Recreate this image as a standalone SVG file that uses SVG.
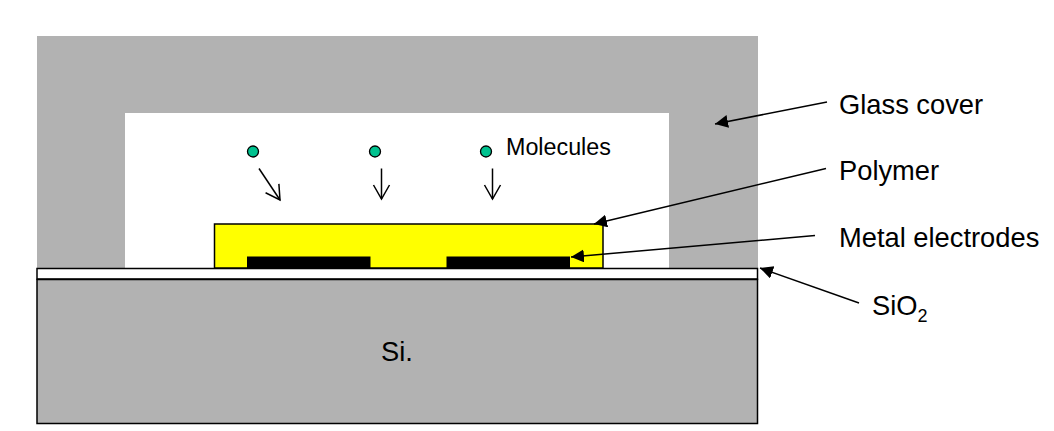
<svg xmlns="http://www.w3.org/2000/svg" width="1054" height="431" viewBox="0 0 1054 431">
<defs>
<marker id="solid" markerUnits="userSpaceOnUse" markerWidth="16" markerHeight="14" refX="13" refY="6.500" orient="auto"><path d="M0 0L13 6.500L0 13Z" fill="#000"/></marker>
<marker id="open" markerUnits="userSpaceOnUse" markerWidth="18" markerHeight="20" refX="15" refY="9" orient="auto"><path d="M1 1L15 9L1 17" fill="none" stroke="#000" stroke-width="1.500"/></marker>
</defs>
<style>
text{font-family:"Liberation Sans",Arial,sans-serif;fill:#000}
.lab{font-size:27.300px}
.out{stroke:#000;stroke-width:1.500}
.ln{stroke:#000;stroke-width:1.500;fill:none}
.mol{fill:#00c28f;stroke:#000;stroke-width:1.300}
</style>
<g id="glass-cover"><path d="M37 36H758V268H669V113H125V268H37Z" fill="#b2b2b2"/></g>
<g id="cavity"><rect x="125" y="113" width="544" height="155" fill="#fff"/></g>
<g id="sio2"><rect x="37" y="268.500" width="720.500" height="10.500" fill="#fff" class="out"/></g>
<g id="si"><rect x="37" y="279.500" width="720.500" height="144" fill="#b2b2b2" class="out"/><text x="397" y="361" class="lab" text-anchor="middle">Si.</text></g>
<g id="polymer"><rect x="214.500" y="224" width="388.500" height="44" fill="#ff0" class="out"/></g>
<g id="electrode-1"><rect x="247" y="256.500" width="123.500" height="12" fill="#000"/></g>
<g id="electrode-2"><rect x="446.500" y="256.500" width="123.500" height="12" fill="#000"/></g>
<g id="molecule-1"><circle cx="253" cy="151.500" r="5.500" class="mol"/></g>
<g id="molecule-2"><circle cx="375" cy="151.500" r="5.500" class="mol"/></g>
<g id="molecule-3"><circle cx="486" cy="151.500" r="5.500" class="mol"/></g>
<g id="connectors">
<path d="M259 168.500L280 200" class="ln" marker-end="url(#open)"/>
<path d="M381.500 168.500V199" class="ln" marker-end="url(#open)"/>
<path d="M492.500 168.500V199" class="ln" marker-end="url(#open)"/>
<path d="M827 102L715 124" class="ln" marker-end="url(#solid)"/>
<path d="M826 168.500L594 224" class="ln" marker-end="url(#solid)"/>
<path d="M815 235.500L571 257" class="ln" marker-end="url(#solid)"/>
<path d="M859 303L760 268" class="ln" marker-end="url(#solid)"/>
</g>
<g id="labels">
<text x="506" y="155" font-size="23.300">Molecules</text>
<text x="839" y="114" class="lab">Glass cover</text>
<text x="839" y="180" class="lab">Polymer</text>
<text x="839" y="247" class="lab">Metal electrodes</text>
<text x="872" y="315" class="lab">SiO<tspan font-size="18" dy="7">2</tspan></text>
</g>
</svg>
